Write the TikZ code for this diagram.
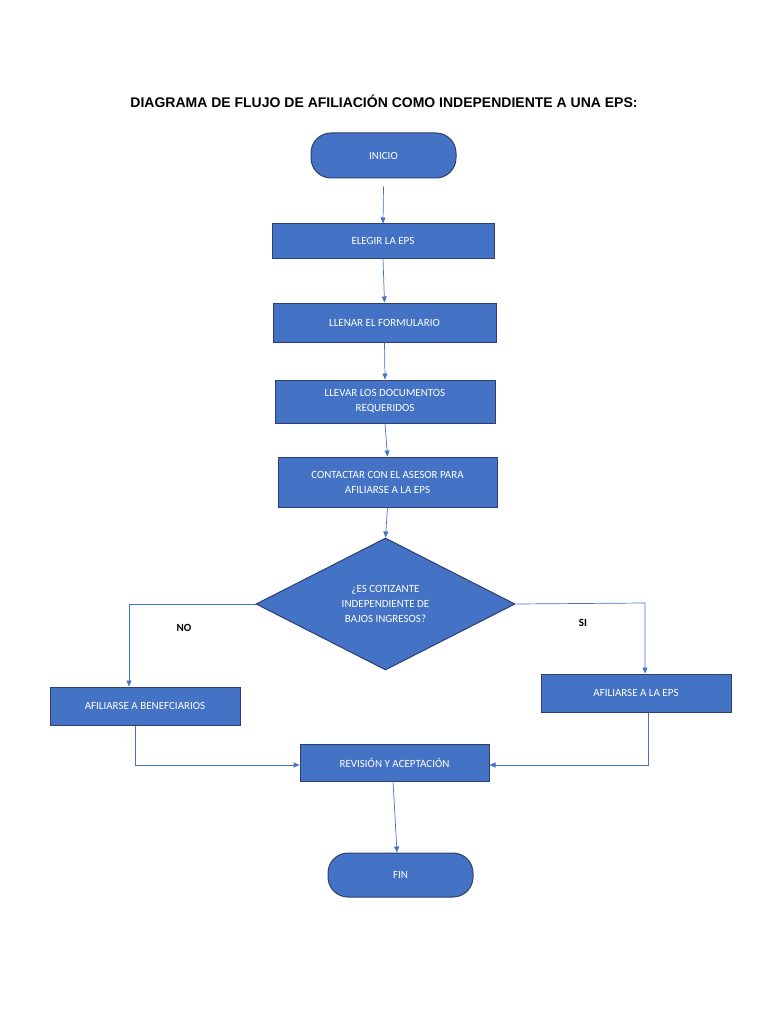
\documentclass[tikz,border=0pt]{standalone}
\usepackage{fontspec}
\setmainfont{Carlito}
\newfontfamily\titlefont{Liberation Sans}
\usetikzlibrary{shapes.geometric,arrows.meta}
\definecolor{fillb}{HTML}{4472C4}
\definecolor{edgeb}{HTML}{2F3F6F}
\begin{document}
\begin{tikzpicture}[x=1pt,y=-1pt,
 box/.style={draw=edgeb,fill=fillb,line width=1pt,text=white,font=\fontsize{11}{15}\selectfont,align=center,inner sep=0pt},
 arr/.style={draw=fillb,line width=0.7pt,-{Triangle[length=6pt,width=5pt]}}]
\useasboundingbox (0,0) rectangle (768,1024);
\node[font=\titlefont\bfseries\fontsize{14}{16}\selectfont] (t) at (384,101) {DIAGRAMA DE FLUJO DE AFILIACIÓN COMO INDEPENDIENTE A UNA EPS:};
\node[box,rounded corners=20pt,minimum width=145pt,minimum height=45pt] (ini) at (383.5,155.5) {INICIO};
\node[box,minimum width=222pt,minimum height=34pt] (el) at (383,241) {ELEGIR LA EPS};
\node[box,minimum width=223pt,minimum height=39pt] (ll) at (384.5,322.5) {LLENAR EL FORMULARIO};
\node[box,minimum width=220pt,minimum height=43pt] (lv) at (385,401.5) {LLEVAR LOS DOCUMENTOS\\REQUERIDOS};
\node[box,minimum width=219pt,minimum height=50pt] (co) at (387.5,482) {CONTACTAR CON EL ASESOR PARA\\AFILIARSE A LA EPS};
\node[box,diamond,aspect=1.96,minimum width=259pt,minimum height=132pt] (d) at (385.5,604) {¿ES COTIZANTE\\INDEPENDIENTE DE\\BAJOS INGRESOS?};
\node[box,minimum width=190pt,minimum height=38pt] (ab) at (145,706) {AFILIARSE A BENEFCIARIOS};
\node[box,minimum width=190pt,minimum height=38pt] (ae) at (636,693) {AFILIARSE A LA EPS};
\node[box,minimum width=189pt,minimum height=37pt] (rv) at (394.5,762.5) {REVISIÓN Y ACEPTACIÓN};
\node[box,rounded corners=20pt,minimum width=145pt,minimum height=44pt] (fin) at (400.5,875) {FIN};
\node[font=\bfseries\fontsize{11}{13}\selectfont] (no) at (184,628) {NO};
\node[font=\bfseries\fontsize{11}{13}\selectfont] (si) at (583,623) {SI};
\draw[arr] (ini.south) ++(0,8) coordinate (a1) -- (el.north);
\draw[arr] (el.south) -- (ll.north);
\draw[arr] (ll.south) -- (lv.north);
\draw[arr] (lv.south) -- (co.north);
\draw[arr] (co.south) -- (d.north);
\draw[arr] (d.west) -- (129,604) -- (ab.north -| 129,0);
\draw[arr] (d.east) -- (645,603) -- (ae.north -| 645,0);
\draw[arr] (ab.south -| 135,0) -- (135,765) -- (rv.west |- 0,765);
\draw[arr] (ae.south -| 648,0) -- (648,765) -- (rv.east |- 0,765);
\draw[arr] (393,781) -- (fin.north -| 397,0);
\end{tikzpicture}
\end{document}
